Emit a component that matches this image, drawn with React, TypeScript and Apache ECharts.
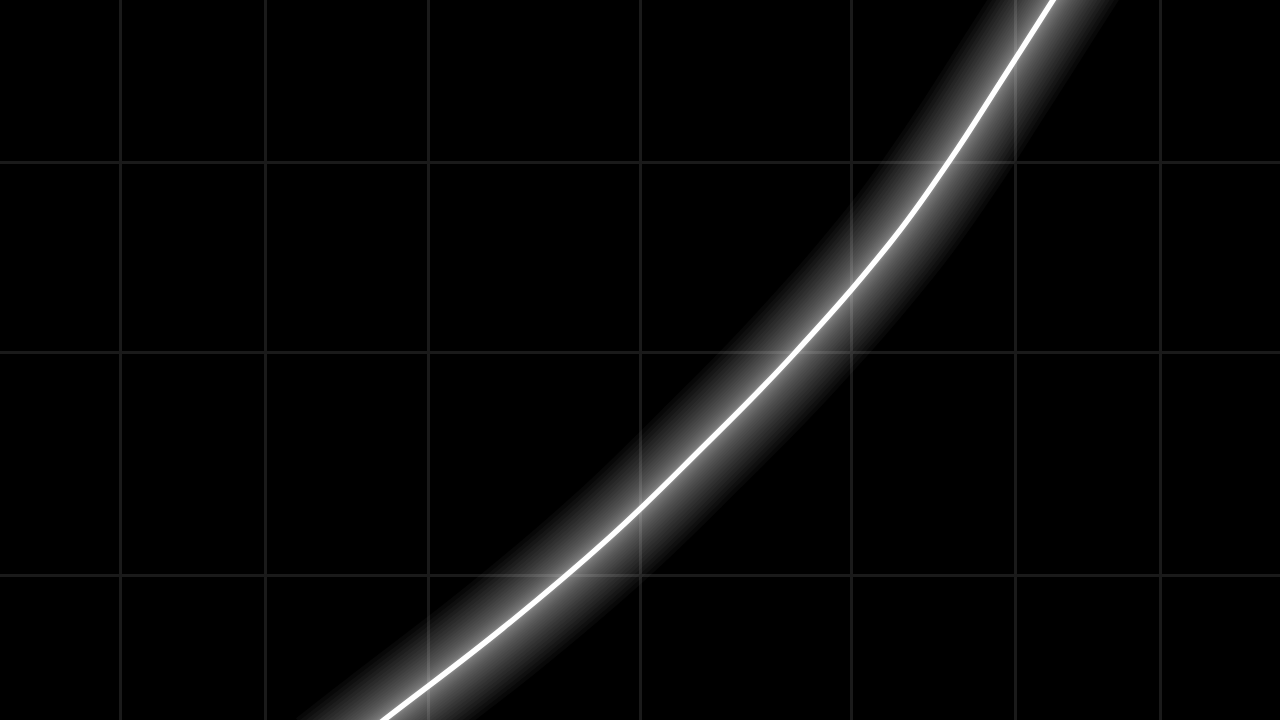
import React, { useEffect, useRef } from "react";
import * as echarts from "echarts";

// curve samples (x, y) in chart units (y measured upward from bottom);
// the first and last samples continue the curve just past the picture edges
const curveX = [330, 384, 503, 610, 700, 793, 890, 950, 1000, 1053, 1078];
const curveY = [-42, 0, 92, 183, 270, 365, 477, 560, 637, 720, 759];

// grid line positions
const verticalLines = [120, 265, 428, 640, 851, 1015, 1160];
const horizontalLines = [558, 368, 145];

export default function App() {
  const ref = useRef<HTMLDivElement>(null);
  useEffect(() => {
    if (!ref.current) return;
    const chart = echarts.init(ref.current, undefined, { renderer: "svg" });
    const data = curveX.map((x, i) => [x, curveY[i]]);
    const layers = 26;
    const glowSeries = [] as any[];
    for (let k = layers - 1; k >= 0; k--) {
      const t = (k + 1) / layers;
      const width = 7 + 104 * Math.pow(t, 2);
      glowSeries.push({
        type: "line",
        data,
        smooth: 0.4,
        showSymbol: false,
        silent: true,
        z: 6,
        lineStyle: { color: "rgba(255,255,255,0.032)", width },
      });
    }
    chart.setOption({
      animation: false,
      backgroundColor: "#000000",
      grid: { left: 0, right: 0, top: 0, bottom: 0 },
      xAxis: { type: "value", min: 0, max: 1280, show: false },
      yAxis: { type: "value", min: 0, max: 720, show: false },
      series: [
        {
          type: "line",
          data: [],
          silent: true,
          z: 1,
          markLine: {
            silent: true,
            z: 1,
            symbol: ["none", "none"],
            label: { show: false },
            lineStyle: { color: "#1a1a1a", width: 3, type: "solid" },
            data: [
              ...verticalLines.map((v) => ({ xAxis: v })),
              ...horizontalLines.map((v) => ({ yAxis: v })),
            ],
          },
        },
        ...glowSeries,
        {
          type: "line",
          data,
          smooth: 0.4,
          showSymbol: false,
          silent: true,
          z: 10,
          lineStyle: { color: "#ffffff", width: 5.5 },
        },
      ],
    });
    return () => chart.dispose();
  }, []);
  return (
    <div
      ref={ref}
      style={{ position: "fixed", left: 0, top: 0, width: 1280, height: 720 }}
    />
  );
}
